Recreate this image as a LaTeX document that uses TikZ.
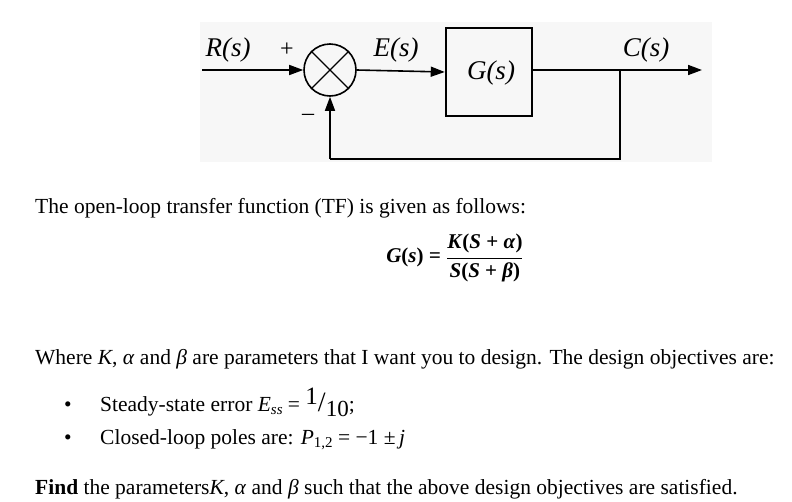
\documentclass[tikz,border=0pt]{standalone}
\usepackage{fontspec}
\setmainfont{Liberation Serif}
\usetikzlibrary{arrows.meta}
\begin{document}
\begin{tikzpicture}[x=1pt,y=-1pt,
  sig/.style={line width=1.6pt,-{Triangle[length=14pt,width=10pt]}},
  wire/.style={line width=1.6pt},
  lbl/.style={font=\fontsize{27}{27}\selectfont\itshape,anchor=base},
  txt/.style={font=\fontsize{21.5}{24}\selectfont,anchor=base west,inner sep=0}]
\useasboundingbox (0,0) rectangle (792,501);
\fill[white] (0,0) rectangle (792,501);
\fill[gray!6] (200,22) rectangle (712,162);
% block diagram
\node[draw,circle,line width=1.6pt,minimum size=52pt,inner sep=0] (sum) at (330,70) {};
\draw[line width=1.4pt] (sum.45) -- (sum.225) (sum.135) -- (sum.315);
\node[draw,line width=2.5pt,minimum width=86pt,minimum height=88pt] (G) at (489,72) {};
\node[font=\fontsize{27}{27}\selectfont\itshape] (Gl) at (491,73) {G(s)};
\coordinate (in) at (202,70);
\coordinate (out) at (702,70);
\coordinate (br) at (620,70);
\coordinate (bb) at (620,159);
\coordinate (sb) at (330,159);
\draw[sig] (in) -- (sum.west);
\draw[sig] (sum.east) -- (G.west);
\draw[sig] (G.east |- br) -- (out);
\draw[wire] (br) -- (bb) -- (sb);
\draw[sig] (sb) -- (sum.south);
\node[lbl] (R) at (228,56) {R(s)};
\node[lbl] (E) at (396,56) {E(s)};
\node[lbl] (C) at (646,56) {C(s)};
\node[font=\fontsize{24}{24}\selectfont,anchor=base] (plus) at (287,56) {+};
\node[font=\fontsize{24}{24}\selectfont,anchor=base] (minus) at (308,120) {\textendash};
% text
\node[txt] (t1) at (35,213) {The open-loop transfer function (TF) is given as follows:};
\node[font=\fontsize{21}{24}\selectfont\bfseries\itshape] (eq) at (455,258)
 {G\textup{(}s\textup{)} = $\displaystyle\frac{\hbox{\bfseries\itshape K\textup{(}S \textup{+} α\textup{)}}}{\hbox{\bfseries\itshape S\textup{(}S \textup{+} β\textup{)}}}$};
\node[txt] (t2) at (35,364) {Where \textit{K}, \textit{α} and \textit{β} are parameters that I want you to design. The design objectives are:};
\node[txt] (b1) at (64,411) {•};
\node[txt] (t3) at (100,411) {Steady-state error \textit{E}\raisebox{-3pt}{\fontsize{15}{15}\selectfont\textit{ss}} = \raisebox{7pt}{\fontsize{25}{25}\selectfont 1}{\fontsize{28}{28}\selectfont/}\raisebox{-5pt}{\fontsize{23}{23}\selectfont 10};};
\node[txt] (b2) at (64,444) {•};
\node[txt] (t4) at (100,444) {Closed-loop poles are: \textit{P}\raisebox{-3pt}{\fontsize{15}{15}\selectfont 1,2} = −1 ±\,\textit{j}};
\node[txt] (t5) at (35,494) {\textbf{Find} the parameters\textit{K}, \textit{α} and \textit{β} such that the above design objectives are satisfied.};
\end{tikzpicture}
\end{document}
